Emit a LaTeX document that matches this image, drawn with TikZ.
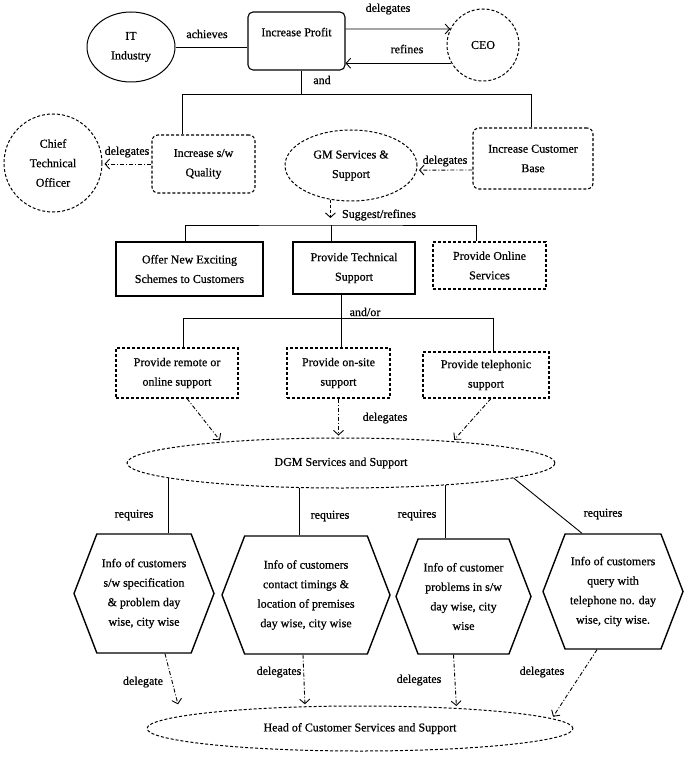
\documentclass[tikz,border=0pt]{standalone}
\usepackage{fontspec}
\setmainfont{Liberation Serif}[FakeBold=0.6]
\usetikzlibrary{arrows.meta,shapes.geometric,shapes.symbols}

\begin{document}
\begin{tikzpicture}[
  x=1pt, y=1pt,
  every node/.style = {font=\fontsize{12}{19.5}\selectfont, align=center, inner sep=2pt},
  box/.style    = {draw, rectangle, line width=1.1pt, inner sep=3pt},
  rbox/.style   = {box, rounded corners=5pt},
  dbox/.style   = {box, dash pattern=on 3pt off 2pt},
  drbox/.style  = {dbox, rounded corners=6pt},
  solidbox/.style = {box, line width=1.7pt},
  oval/.style   = {draw, ellipse, line width=1pt, inner sep=0pt},
  doval/.style  = {oval, dash pattern=on 3pt off 2pt},
  dcirc/.style  = {draw, circle, line width=1pt, inner sep=0pt, dash pattern=on 3pt off 2pt},
  hexbox/.style = {draw, signal, signal to=east and west, signal pointer angle=138,
                   line width=1.4pt, inner sep=0pt},
  lbl/.style    = {inner sep=1pt},
  link/.style   = {line width=0.9pt},
  go/.style     = {link, -{Straight Barb[length=4.5pt,width=10pt]}},
  deleg/.style  = {go, dash pattern=on 4pt off 2pt on 1pt off 2pt, shorten >=2pt},
  sugg/.style   = {go, dash pattern=on 3pt off 2pt},
]
\useasboundingbox (0,0) rectangle (685,-757);

% --- Top goal -------------------------------------------------------------
\node[oval, minimum width=88, minimum height=70] (itind) at (131,-47) {IT\\ Industry};
\node[rbox, minimum width=97, minimum height=58, text depth=18pt] (profit) at (296.5,-41) {Increase Profit};
\node[dcirc, minimum size=72] (ceo) at (483,-45) {CEO};

\draw[link] (itind.east) -- (itind.east -| profit.west);
\node[lbl] (lachieve) at (207,-34) {achieves};
\draw[go] ([yshift=12pt]profit.east) -- (ceo.154);
\node[lbl] (ldelceo) at (388,-9) {delegates};
\draw[go] (ceo.210) -- (ceo.210 -| profit.east);
\node[lbl] (lrefine) at (407,-49) {refines};

% --- AND decomposition ----------------------------------------------------
\node[dcirc, minimum size=98] (cto) at (53,-163) {Chief\\ Technical\\ Officer};
\node[drbox, minimum width=103, minimum height=58] (quality) at (203.5,-164) {Increase s/w\\ Quality};
\node[doval, minimum width=132, minimum height=71] (gm) at (351,-165.5) {GM Services \&\\ Support};
\node[drbox, minimum width=120, minimum height=61] (custbase) at (533,-158.5) {Increase Customer\\ Base};

\draw[link] ([xshift=5pt]profit.south) -- ++(0,-24) coordinate (andj);
\node[lbl] (land) at (322,-80) {and};
\draw[link] ([xshift=-21pt]quality.north) |- (andj) -| ([xshift=-2pt]custbase.north);

\draw[deleg] (quality.west) -- (quality.west -| cto.east);
\node[lbl] (ldelcto) at (127,-152) {delegates};
\draw[deleg] ([yshift=-11.5pt]custbase.west) -- (gm.356);
\node[lbl] (ldelgm) at (445,-161) {delegates};

% --- Suggest/refines ------------------------------------------------------
\node[solidbox, minimum width=147, minimum height=54] (offer) at (189.5,-269) {Offer New Exciting\\ Schemes to Customers};
\node[solidbox, minimum width=122, minimum height=52] (tech) at (354,-268) {Provide Technical\\ Support};
\node[dbox, minimum width=113, minimum height=47] (online) at (489.5,-265.5) {Provide Online\\ Services};

\coordinate (sj) at (331,-225);
\draw[sugg] (gm.239) -- ([yshift=7pt]gm.239 |- sj);
\node[lbl] (lsugg) at (379,-215) {Suggest/refines};
\draw[link] ([xshift=-4pt]offer.north) |- (sj) -| ([xshift=-13pt]online.north);
\draw[link] (sj) -- (sj |- tech.north);

% --- AND/OR decomposition -------------------------------------------------
\node[dbox, minimum width=122, minimum height=50] (remote) at (177,-373) {Provide remote or\\ online support};
\node[dbox, minimum width=103, minimum height=50] (onsite) at (338.5,-373) {Provide on-site\\ support};
\node[dbox, minimum width=126, minimum height=46] (tele) at (486,-375) {Provide telephonic\\ support};

\draw[link] ([xshift=-13pt]tech.south) -- ++(0,-24) coordinate (oj);
\node[lbl] (landor) at (365,-312) {and/or};
\draw[link] ([xshift=6pt]remote.north) |- (oj) -| ([xshift=7pt]tele.north);
\draw[link] (oj) -- (oj |- onsite.north);

% --- DGM ------------------------------------------------------------------
\node[doval, minimum width=428, minimum height=50] (dgm) at (341,-463) {DGM Services and Support};
\draw[deleg] ([xshift=10pt]remote.south) -- (dgm.170);
\draw[deleg] (onsite.south) -- (onsite.south |- dgm.north);
\draw[deleg] ([xshift=5pt]tele.south) -- (dgm.11);
\node[lbl] (ldeldgm) at (385,-418) {delegates};

% --- Information needed ---------------------------------------------------
\node[hexbox, minimum width=140, minimum height=119] (hexA) at (144,-593.5)
  {Info of customers\\ s/w specification\\ \& problem day\\ wise, city wise};
\node[hexbox, minimum width=168, minimum height=118] (hexB) at (306,-595)
  {Info of customers\\ contact timings \&\\ location of premises\\ day wise, city wise};
\node[hexbox, minimum width=135, minimum height=115] (hexC) at (463.5,-596.5)
  {Info of customer\\ problems in s/w\\ day wise, city\\ wise};
\node[hexbox, minimum width=140, minimum height=115] (hexD) at (613,-591.5)
  {Info of customers\\ query with\\ telephone no. day\\ wise, city wise.};

\draw[link] (dgm.185) -- (dgm.185 |- hexA.north);
\node[lbl] (lreqA) at (134,-515) {requires};
\draw[link] (dgm.211) -- (dgm.211 |- hexB.north);
\node[lbl] (lreqB) at (330,-516) {requires};
\draw[link] (dgm.348) -- (dgm.348 |- hexC.north);
\node[lbl] (lreqC) at (417,-515) {requires};
\draw[link] (dgm.355) -- ([xshift=-31pt]hexD.north);
\node[lbl] (lreqD) at (603,-514) {requires};

% --- Head of customer services --------------------------------------------
\node[doval, minimum width=426, minimum height=45] (head) at (360,-728.5) {Head of Customer Services and Support};

\draw[deleg, shorten >=12pt] ([xshift=21pt]hexA.south) -- (head.176);
\node[lbl] (ldelA) at (143,-682) {delegate};
\draw[deleg] ([xshift=-3pt]hexB.south) -- (head.158);
\node[lbl] (ldelB) at (279,-672) {delegates};
\draw[deleg] ([xshift=-10pt]hexC.south) -- (head.12);
\node[lbl] (ldelC) at (419,-680) {delegates};
\draw[deleg] ([xshift=-16pt]hexD.south) -- (head.3);
\node[lbl] (ldelD) at (542,-672) {delegates};

\end{tikzpicture}
\end{document}
